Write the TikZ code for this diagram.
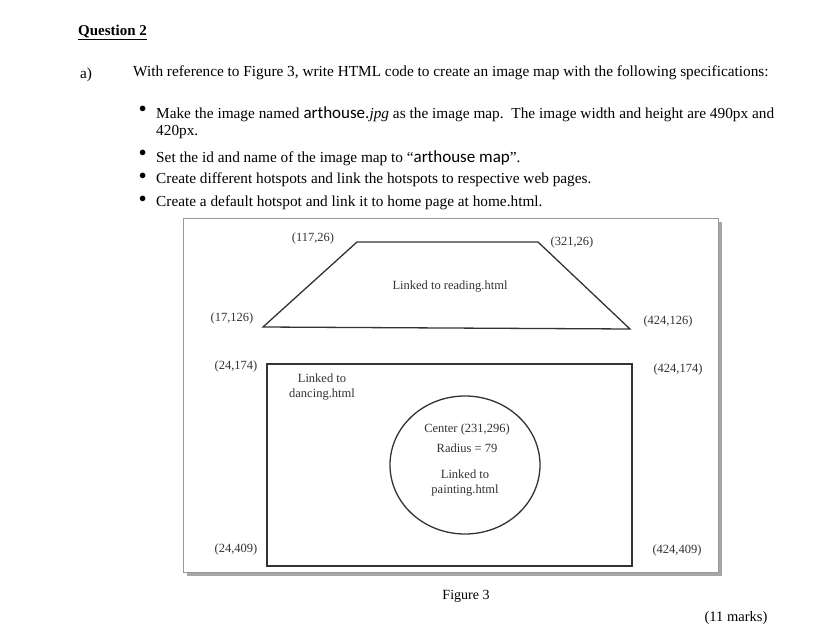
\documentclass[tikz,border=0pt]{standalone}
\usepackage{fontspec}
\setmainfont{Liberation Serif}
\newfontfamily\calfnt{Carlito}
\begin{document}
\begin{tikzpicture}[x=1pt,y=-1pt,
  body/.style={font=\fontsize{15.3}{17}\selectfont,inner sep=0pt},
  lab/.style={font=\fontsize{12.5}{15}\selectfont,text=black!80,inner sep=0pt},
  shp/.style={draw=black!80,line width=1.3pt}]
\useasboundingbox (0,0) rectangle (820,640);
\node[body,anchor=base west,font=\bfseries\fontsize{15}{17}\selectfont] (q) at (78,35) {\underline{Question 2}};
\node[body,anchor=base west] (a) at (80,78) {a)};
\node[body,anchor=north west,text width=641pt,align=justify] (p) at (133,66) {With reference to Figure 3, write HTML code to create an image map with the following specifications:};
\foreach \y/\t [count=\i] in {
 106/{Make the image named {\calfnt\fontsize{17}{17}\selectfont arthouse.}{\itshape jpg} as the image map.\ \ The image width and height are 490px and 420px.},
 150/{Set the id and name of the image map to ``{\calfnt\fontsize{17}{17}\selectfont arthouse map}''.},
 173/{Create different hotspots and link the hotspots to respective web pages.},
 196/{Create a default hotspot and link it to home page at home.html.}}{
 \node[body,anchor=north west] (b\i) at (139,\y) {$\bullet$};
 \node[body,anchor=north west,text width=618pt,align=justify] (t\i) at (156,\y) {\t};
}
% figure frame
\fill[black!35] (187,222) rectangle (722,576);
\draw[black!40,fill=white] (183,218) rectangle (718,572);
\draw[shp] (357,242) -- (538,242) -- (630,329) -- (263,327) -- cycle;
\draw[shp] (267,364) rectangle (632,566);
\draw[shp] (465,465) ellipse (75 and 69);
\node[lab] (l1) at (313,238) {(117,26)};
\node[lab] (l2) at (572,242) {(321,26)};
\node[lab] (l3) at (232,318) {(17,126)};
\node[lab] (l4) at (668,321) {(424,126)};
\node[lab] (l5) at (236,366) {(24,174)};
\node[lab] (l6) at (678,369) {(424,174)};
\node[lab] (l7) at (236,549) {(24,409)};
\node[lab] (l8) at (677,550) {(424,409)};
\node[lab] (r) at (450,287) {Linked to reading.html};
\node[lab,align=center] (d) at (322,387) {Linked to\\dancing.html};
\node[lab] (c1) at (467,429) {Center (231,296)};
\node[lab] (c2) at (467,448) {Radius = 79};
\node[lab,align=center] (c3) at (465,483) {Linked to\\painting.html};
\node[body,font=\fontsize{14}{15}\selectfont] (f) at (466,596) {Figure 3};
\node[body,font=\fontsize{14.5}{15}\selectfont] (m) at (736,618) {(11 marks)};
\end{tikzpicture}
\end{document}
